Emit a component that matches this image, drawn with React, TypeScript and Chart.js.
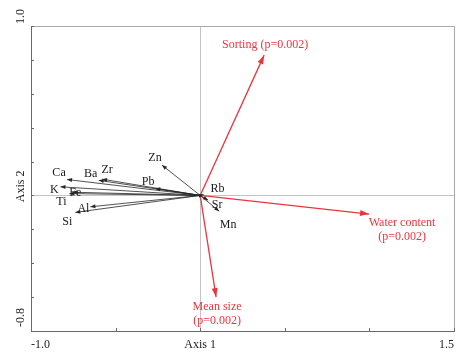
import React, { useEffect, useRef } from "react";
import { Chart, registerables } from "chart.js";

Chart.register(...registerables);

// Response variables (elements)
const speciesNames = ["Zn", "Ca", "Ba", "Zr", "Pb", "K", "Fe", "Ti", "Al", "Si", "Rb", "Sr", "Mn"];
const speciesAxis1 = [-0.226, -0.787, -0.6, -0.58, -0.266, -0.826, -0.756, -0.773, -0.649, -0.738, 0.02, 0.047, 0.112];
const speciesAxis2 = [0.179, 0.094, 0.089, 0.096, 0.041, 0.051, 0.019, 0.011, -0.067, -0.1, 0.006, -0.028, -0.093];

// Explanatory variables
const envNames = ["Sorting", "Water content", "Mean size"];
const envPValues = ["0.002", "0.002", "0.002"];
const envAxis1 = [0.378, 0.998, 0.094];
const envAxis2 = [0.828, -0.11, -0.6];

// Axes
const xMin = -1.0;
const xMax = 1.5;
const yMin = -0.8;
const yMax = 1.0;
const xTickValues = [-1.0, -0.5, 0, 0.5, 1.0, 1.5];
const yTickValues = [-0.8, -0.6, -0.4, -0.2, 0, 0.2, 0.4, 0.6, 0.8, 1.0];
const xAxisTitle = "Axis 1";
const yAxisTitle = "Axis 2";

// label placement (pixel offsets from arrow tips) – layout only
const speciesLabelOffsets: [number, number][] = [
  [-7, -7], [-8, -7], [-8, -7], [5, -9], [-7, -7], [-6, 3], [3, 1], [-8, 8.5], [-7, 2], [-8, 9], [14, -6], [9, 5], [9, 14],
];
const envLabelLayouts: { dx: number; dy: number; oneLine: boolean }[] = [
  { dx: 1, dy: -10, oneLine: true },
  { dx: 33, dy: 9, oneLine: false },
  { dx: 1, dy: 10, oneLine: false },
];

const RED = "#e8363f";
const BLACK = "#262626";
const FONT = '12px "Liberation Serif", "Times New Roman", serif';

function drawArrowHead(ctx: CanvasRenderingContext2D, x0: number, y0: number, x1: number, y1: number, len: number, half: number, color: string) {
  const ang = Math.atan2(y1 - y0, x1 - x0);
  ctx.save();
  ctx.fillStyle = color;
  ctx.beginPath();
  ctx.moveTo(x1, y1);
  ctx.lineTo(x1 - len * Math.cos(ang) + half * Math.sin(ang), y1 - len * Math.sin(ang) - half * Math.cos(ang));
  ctx.lineTo(x1 - len * Math.cos(ang) - half * Math.sin(ang), y1 - len * Math.sin(ang) + half * Math.cos(ang));
  ctx.closePath();
  ctx.fill();
  ctx.restore();
}

const biplotPlugin = {
  id: "biplot",
  beforeDatasetsDraw(chart: any) {
    const { ctx, chartArea: a, scales } = chart;
    const xs = scales.x;
    const ys = scales.y;
    ctx.save();
    // zero lines
    ctx.strokeStyle = "#c4c4c4";
    ctx.lineWidth = 1;
    const x0 = Math.round(xs.getPixelForValue(0)) + 0.5;
    const y0 = Math.round(ys.getPixelForValue(0)) + 0.5;
    ctx.beginPath();
    ctx.moveTo(x0, a.top);
    ctx.lineTo(x0, a.bottom);
    ctx.moveTo(a.left, y0);
    ctx.lineTo(a.right, y0);
    ctx.stroke();
    // top / right frame
    ctx.strokeStyle = "#a8a8a8";
    ctx.beginPath();
    ctx.moveTo(Math.round(a.left) + 0.5, Math.round(a.top) + 0.5);
    ctx.lineTo(Math.round(a.right) + 0.5, Math.round(a.top) + 0.5);
    ctx.lineTo(Math.round(a.right) + 0.5, Math.round(a.bottom) + 0.5);
    ctx.stroke();
    // left / bottom axes
    ctx.strokeStyle = "#6a6a6a";
    ctx.beginPath();
    ctx.moveTo(Math.round(a.left) + 0.5, Math.round(a.top) + 0.5);
    ctx.lineTo(Math.round(a.left) + 0.5, Math.round(a.bottom) + 0.5);
    ctx.lineTo(Math.round(a.right) + 0.5, Math.round(a.bottom) + 0.5);
    ctx.stroke();
    // ticks
    ctx.beginPath();
    for (const v of yTickValues) {
      const py = Math.round(ys.getPixelForValue(v)) + 0.5;
      ctx.moveTo(a.left, py);
      ctx.lineTo(a.left + 3, py);
    }
    for (const v of xTickValues) {
      const px = Math.round(xs.getPixelForValue(v)) + 0.5;
      ctx.moveTo(px, a.bottom + 1);
      ctx.lineTo(px, a.bottom - 3);
    }
    ctx.stroke();

    // axis text
    ctx.fillStyle = "#222";
    ctx.font = FONT;
    ctx.textBaseline = "middle";
    const by = a.bottom + 14;
    ctx.textAlign = "left";
    ctx.fillText(xMin.toFixed(1), xs.getPixelForValue(xMin), by);
    ctx.textAlign = "right";
    ctx.fillText(xMax.toFixed(1), xs.getPixelForValue(xMax), by);
    ctx.textAlign = "center";
    ctx.fillText(xAxisTitle, xs.getPixelForValue(0), by);

    const lx = a.left - 10;
    ctx.save();
    ctx.translate(lx, ys.getPixelForValue(yMax) - 2);
    ctx.rotate(-Math.PI / 2);
    ctx.textAlign = "left";
    ctx.fillText(yMax.toFixed(1), 0, 0);
    ctx.restore();
    ctx.save();
    ctx.translate(lx, ys.getPixelForValue(yMin) - 4);
    ctx.rotate(-Math.PI / 2);
    ctx.textAlign = "left";
    ctx.fillText(yMin.toFixed(1), 0, 0);
    ctx.restore();
    ctx.save();
    ctx.translate(lx, ys.getPixelForValue(0) - 9);
    ctx.rotate(-Math.PI / 2);
    ctx.textAlign = "center";
    ctx.fillText(yAxisTitle, 0, 0);
    ctx.restore();
    ctx.restore();
  },
  afterDatasetsDraw(chart: any) {
    const { ctx, scales } = chart;
    const xs = scales.x;
    const ys = scales.y;
    const ox = xs.getPixelForValue(0);
    const oy = ys.getPixelForValue(0);
    ctx.save();
    ctx.font = FONT;
    ctx.textAlign = "center";
    ctx.textBaseline = "middle";
    speciesNames.forEach((n, i) => {
      const tx = xs.getPixelForValue(speciesAxis1[i]);
      const ty = ys.getPixelForValue(speciesAxis2[i]);
      drawArrowHead(ctx, ox, oy, tx, ty, 5, 2, BLACK);
      ctx.fillStyle = "#1a1a1a";
      const [dx, dy] = speciesLabelOffsets[i];
      ctx.fillText(n, tx + dx, ty + dy);
    });
    envNames.forEach((n, i) => {
      const tx = xs.getPixelForValue(envAxis1[i]);
      const ty = ys.getPixelForValue(envAxis2[i]);
      drawArrowHead(ctx, ox, oy, tx, ty, 9, 3, RED);
      ctx.fillStyle = RED;
      const l = envLabelLayouts[i];
      if (l.oneLine) {
        ctx.fillText(`${n} (p=${envPValues[i]})`, tx + l.dx, ty + l.dy);
      } else {
        ctx.fillText(n, tx + l.dx, ty + l.dy);
        ctx.fillText(`(p=${envPValues[i]})`, tx + l.dx, ty + l.dy + 14);
      }
    });
    ctx.restore();
  },
};

export default function App() {
  const ref = useRef<HTMLCanvasElement | null>(null);
  useEffect(() => {
    if (!ref.current) return;
    const datasets: any[] = [];
    speciesNames.forEach((n, i) => {
      datasets.push({
        label: n,
        data: [{ x: 0, y: 0 }, { x: speciesAxis1[i], y: speciesAxis2[i] }],
        showLine: true,
        borderColor: BLACK,
        borderWidth: 0.8,
        pointRadius: 0,
      });
    });
    envNames.forEach((n, i) => {
      datasets.push({
        label: n,
        data: [{ x: 0, y: 0 }, { x: envAxis1[i], y: envAxis2[i] }],
        showLine: true,
        borderColor: RED,
        borderWidth: 1.3,
        pointRadius: 0,
      });
    });
    const chart = new Chart(ref.current, {
      type: "scatter",
      data: { datasets },
      options: {
        responsive: false,
        animation: false,
        devicePixelRatio: 1,
        layout: { padding: { left: 31, right: 20, top: 26, bottom: 26 } },
        plugins: { legend: { display: false }, tooltip: { enabled: false } },
        scales: {
          x: { type: "linear", min: xMin, max: xMax, display: false },
          y: { type: "linear", min: yMin, max: yMax, display: false },
        },
      },
      plugins: [biplotPlugin],
    } as any);
    return () => chart.destroy();
  }, []);
  return (
    <div style={{ position: "fixed", left: 0, top: 0, width: 474, height: 357, background: "#fff" }}>
      <canvas ref={ref} width={474} height={357} style={{ width: 474, height: 357, display: "block" }} />
    </div>
  );
}
